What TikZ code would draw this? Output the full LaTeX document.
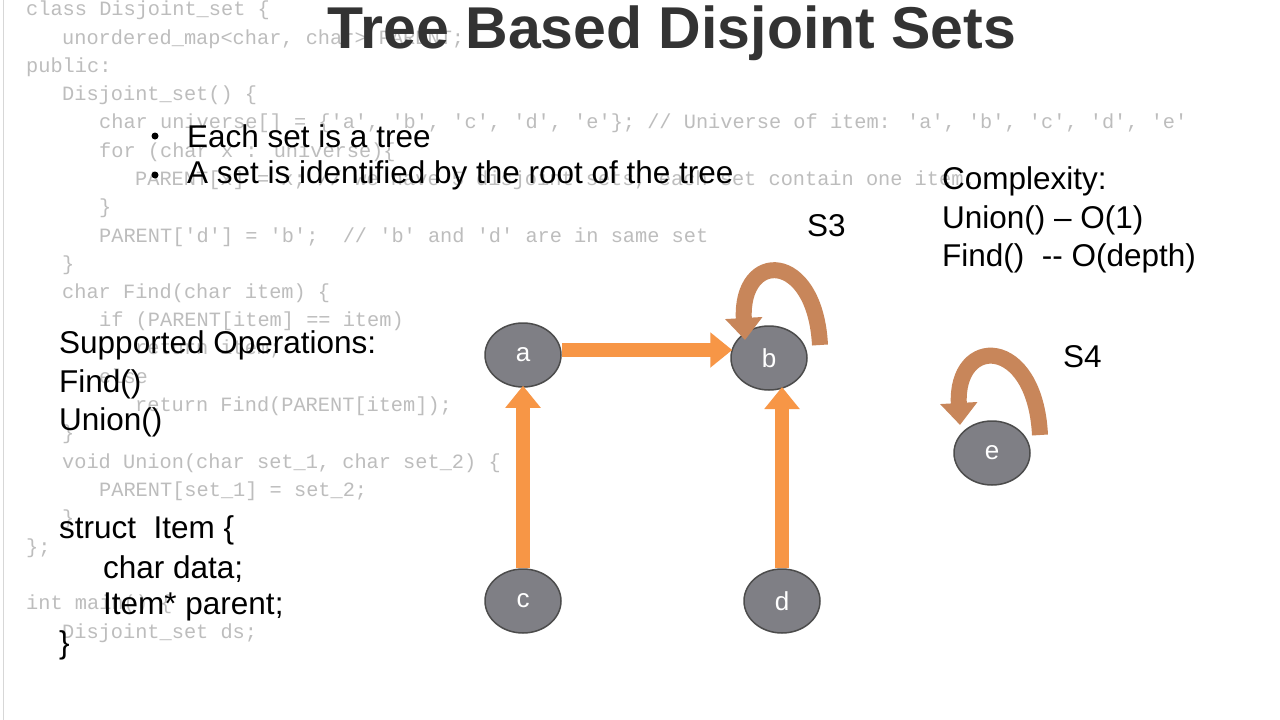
\documentclass[tikz,border=0pt]{standalone}
\usepackage{fontspec}
\setmainfont{Liberation Sans}
\newfontfamily\codefont{Liberation Mono}
\usetikzlibrary{arrows.meta,shapes.geometric}
\definecolor{codegray}{HTML}{BDBDBD}
\definecolor{orng}{HTML}{F79646}
\definecolor{nodegray}{HTML}{7F7F85}
\definecolor{loopc}{HTML}{C8865A}
\tikzset{
 code/.style={anchor=base west,inner sep=0,font=\codefont\fontsize{20.3}{21}\selectfont,text=codegray},
 txt/.style={anchor=west,inner sep=0,font=\fontsize{31.5}{33}\selectfont},
 elem/.style={ellipse,minimum width=76,minimum height=64,fill=nodegray,draw=gray!60!black,line width=1.5,text=white,font=\fontsize{26}{28}\selectfont,inner sep=0},
 fat/.style={draw=orng,line width=14,-{Triangle[width=34,length=22]},shorten >=-2},
 loopar/.style={draw=loopc,line width=16,-{Triangle[width=36,length=22]}}
}
\begin{document}
\begin{tikzpicture}[x=1pt,y=-1pt]
\useasboundingbox[fill=white] (0,0) rectangle (1280,720);
\def\cl#1#2#3{\node[code] at (#1,#2) {#3};}
\cl{26}{15}{class Disjoint\_set \{}
\cl{62}{44}{unordered\_map<char, char> PARENT;}
\cl{26}{72}{public:}
\cl{62}{100}{Disjoint\_set() \{}
\cl{99}{128}{char universe[] = \{'a', 'b', 'c', 'd', 'e'\}; // Universe of item: 'a', 'b', 'c', 'd', 'e'}
\cl{99}{157}{for (char x : universe)\{}
\cl{135}{185}{PARENT[x] = x; // we have 5 disjoint sets, each set contain one item.}
\cl{99}{213}{\}}
\cl{99}{242}{PARENT['d'] = 'b';~~// 'b' and 'd' are in same set}
\cl{62}{270}{\}}
\cl{62}{298}{char Find(char item) \{}
\cl{99}{326}{if (PARENT[item] == item)}
\cl{135}{354}{return item;}
\cl{99}{383}{else}
\cl{135}{411}{return Find(PARENT[item]);}
\cl{62}{439}{\}}
\cl{62}{468}{void Union(char set\_1, char set\_2) \{}
\cl{99}{496}{PARENT[set\_1] = set\_2;}
\cl{62}{524}{\}}
\cl{26}{553}{\};}
\cl{26}{609}{int main() \{}
\cl{62}{638}{Disjoint\_set ds;}
\draw[codegray!60,line width=0.8] (3,0) -- (3,720);

\node[anchor=center,inner sep=0,font=\bfseries\fontsize{59}{62}\selectfont,text=black!80] (title) at (672,33) {Tree Based Disjoint Sets};
\node[txt] (b1) at (187,136) {Each set is a tree};
\node[txt] (b2) at (187,175) {A set is identified by the root of the tree};
\fill (155,136) circle (3.5);
\fill (155,175) circle (3.5);
\node[txt] (cx1) at (942,181) {Complexity:};
\node[txt] (cx2) at (942,220) {Union() – O(1)};
\node[txt] (cx3) at (942,258) {Find()~~-{}- O(depth)};
\node[txt] (s3) at (807,226) {S3};
\node[txt] (s4) at (1063,357) {S4};
\node[txt] (so) at (59,345) {Supported Operations:};
\node[txt] (f1) at (59,384) {Find()};
\node[txt] (u1) at (59,422) {Union()};
\node[txt] (st1) at (59,530) {struct~~Item \{};
\node[txt] (st2) at (103,569) {char data;};
\node[txt] (st3) at (103,607) {Item* parent;};
\node[txt] (st4) at (59,645) {\}};

\node[elem] (a) at (523,355) {a};
\node[elem] (b) at (769,358) {b};
\node[elem] (c) at (523,601) {c};
\node[elem] (d) at (782,601) {d};
\node[elem] (e) at (992,453) {e};
\coordinate (bw) at ([yshift=8pt]b.west);
\draw[fat] (a.east|-bw) -- (bw);
\draw[fat] (c.north) -- (a.south);
\coordinate (bs) at (782,389);
\draw[fat] (d.north) -- (bs);
\coordinate (bl) at (820,345);
\coordinate (el) at (1040,435);
\draw[loopar] (bl) .. controls (815,250) and (740,250) .. (745,340);
\draw[loopar] (el) .. controls (1035,335) and (955,335) .. (960,425);
\end{tikzpicture}
\end{document}
